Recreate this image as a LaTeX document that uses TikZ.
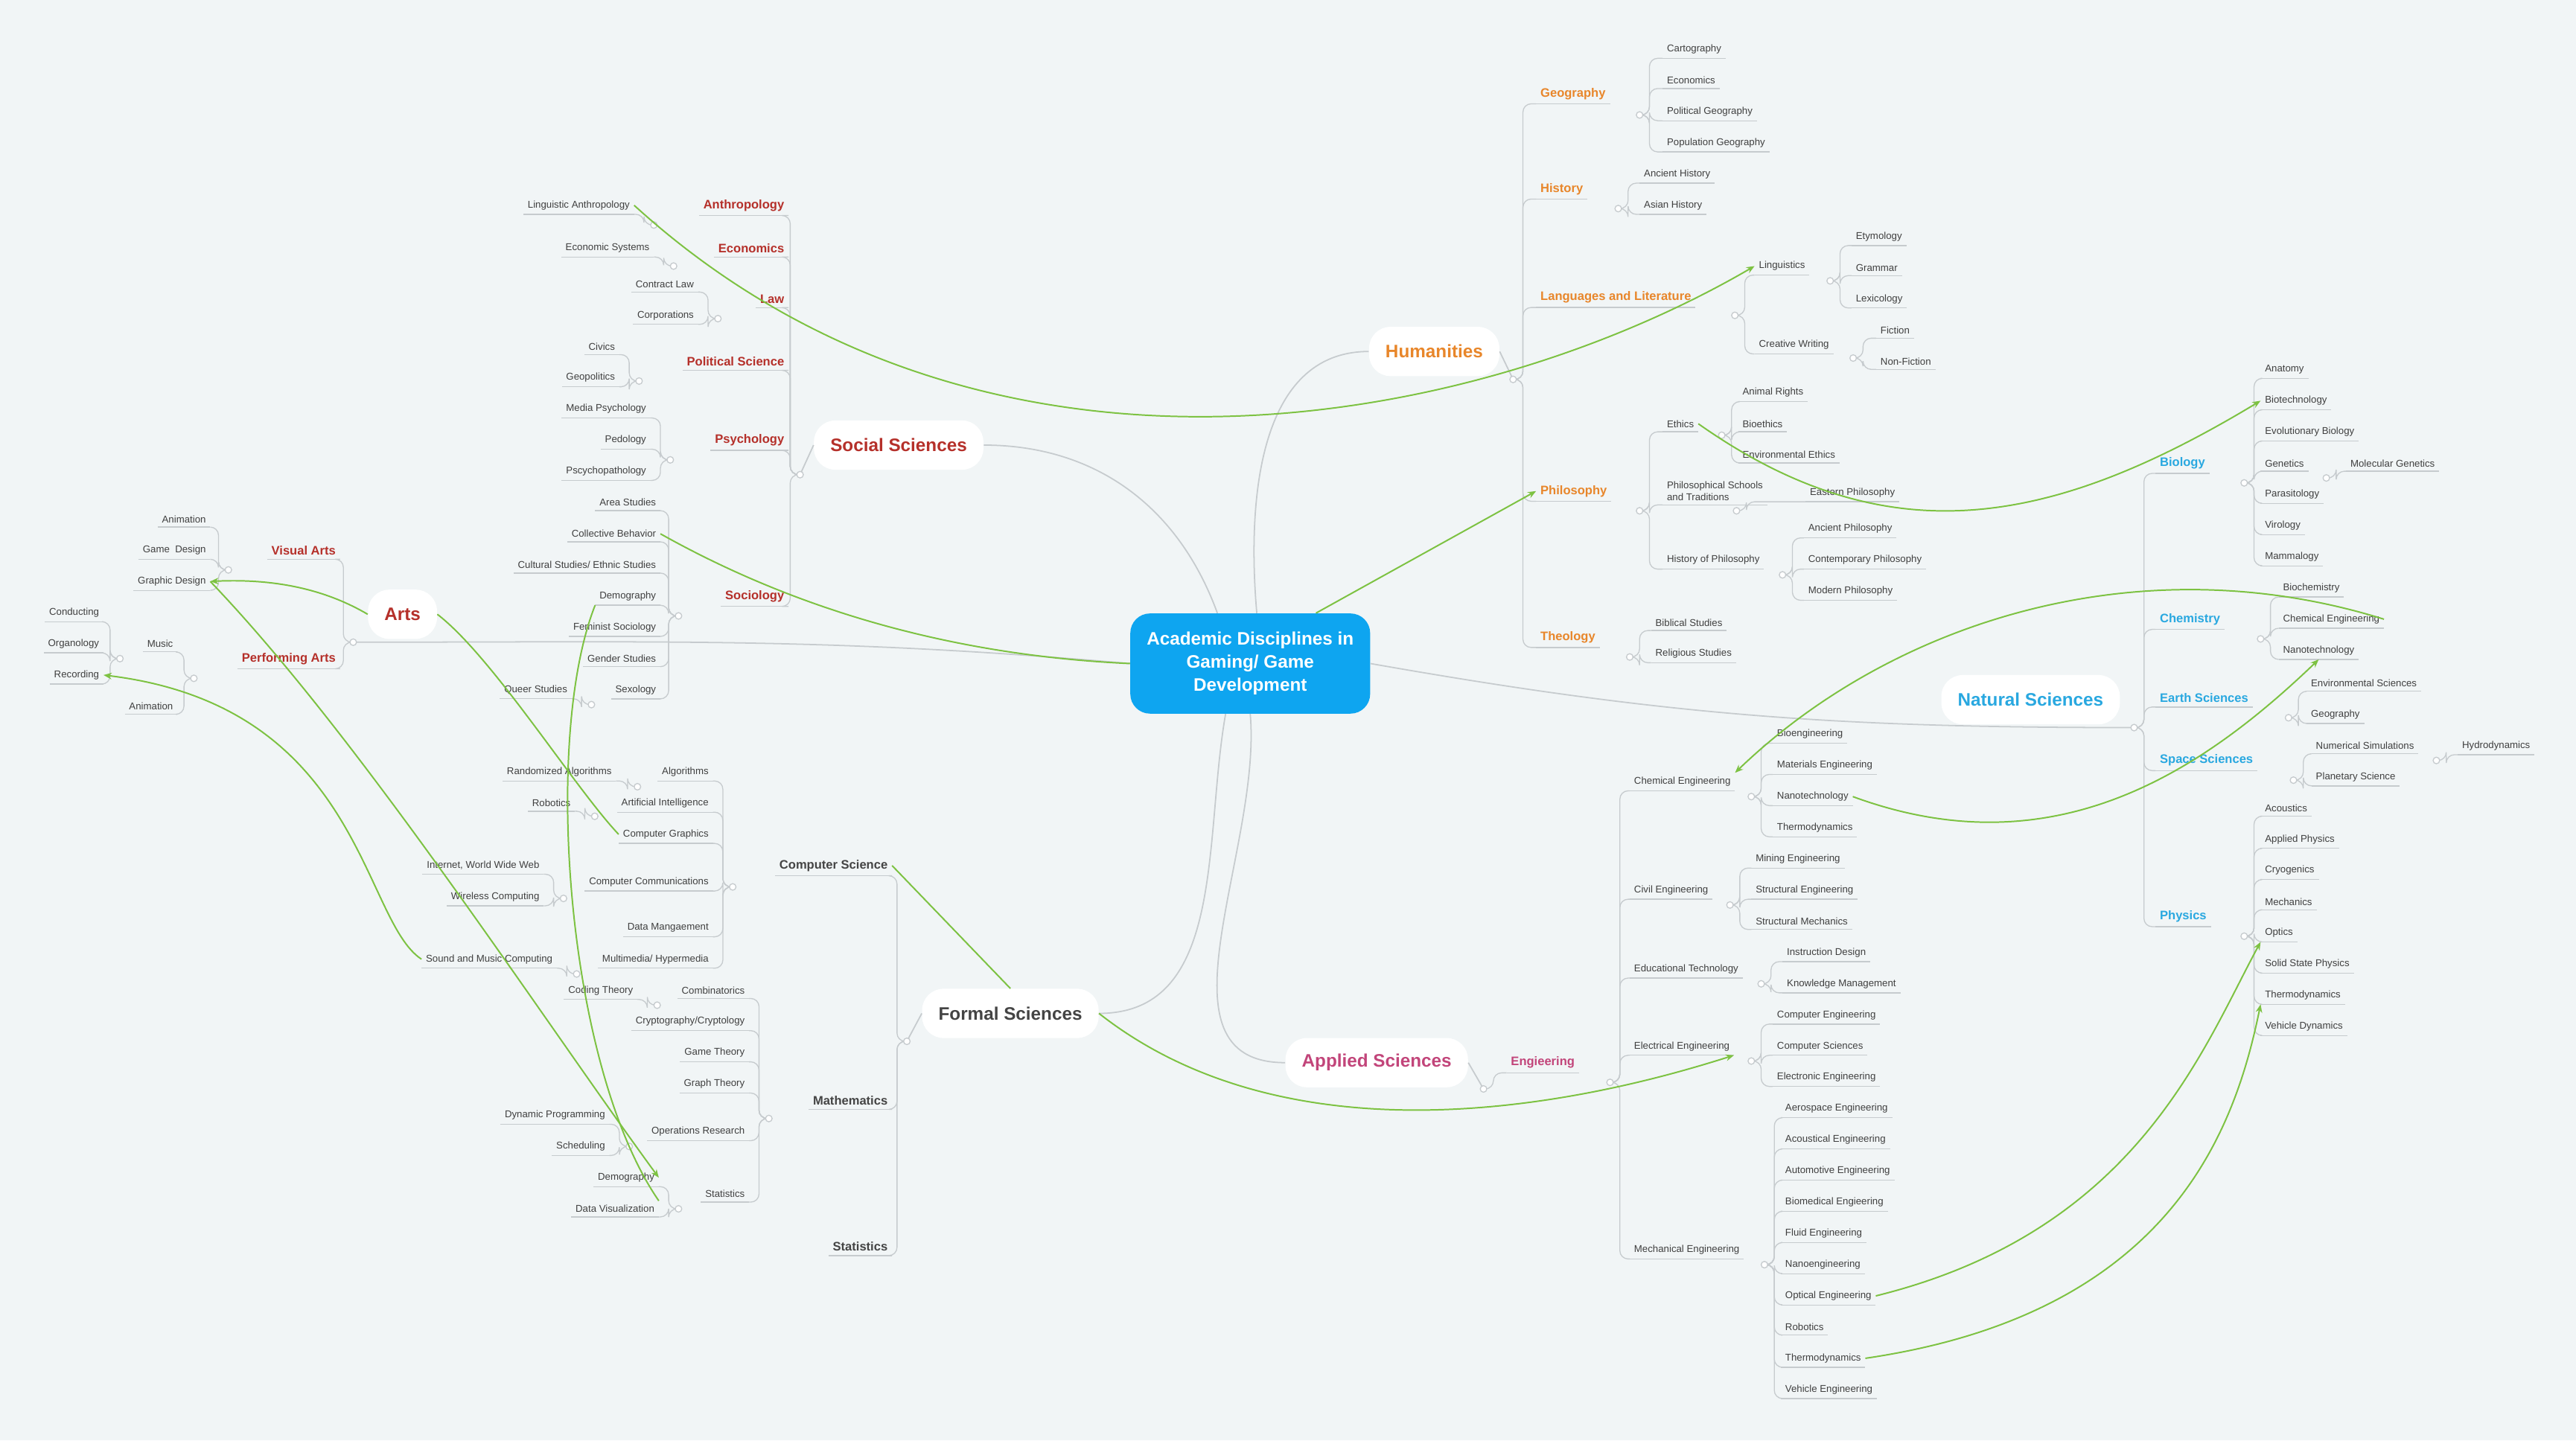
\documentclass[tikz,border=0pt]{standalone}
\usepackage{fontspec}
\setmainfont{Liberation Sans}
\usetikzlibrary{arrows.meta}
\definecolor{bgc}{HTML}{F1F5F6}
\definecolor{lnc}{HTML}{C6CBCE}
\definecolor{grn}{HTML}{7DC242}
\definecolor{humc}{HTML}{E8862A}
\definecolor{socc}{HTML}{B5302A}
\definecolor{natc}{HTML}{29A8E0}
\definecolor{appc}{HTML}{C2457A}
\definecolor{forc}{HTML}{444444}
\definecolor{ctrc}{HTML}{0EA5F0}
\tikzset{
 leaf/.style={font=\fontsize{6}{7}\selectfont, text=black!75, inner sep=2.5pt, align=left},
 hum/.style={leaf, font=\fontsize{7.5}{9}\selectfont\bfseries, text=humc},
 soc/.style={leaf, font=\fontsize{7.5}{9}\selectfont\bfseries, text=socc},
 nat/.style={leaf, font=\fontsize{7.5}{9}\selectfont\bfseries, text=natc},
 app/.style={leaf, font=\fontsize{7.5}{9}\selectfont\bfseries, text=appc},
 for/.style={leaf, font=\fontsize{7.5}{9}\selectfont\bfseries, text=forc},
 ul/.style={draw=lnc, line width=0.6pt},
 conn/.style={draw=lnc, line width=0.6pt, rounded corners=5pt},
 jdot/.style={draw=lnc, fill=white, line width=0.6pt},
 pill/.style={fill=white, rounded corners=13pt, minimum height=30pt, inner xsep=10pt, font=\fontsize{11}{13}\selectfont\bfseries},
 glink/.style={draw=grn, line width=0.9pt},
 garrow/.style={glink, -{Stealth[length=5pt,width=4pt]}},
 main/.style={draw=lnc, line width=0.8pt}
}
\newcommand\rgrp[5][leaf]{%
 \foreach \yy/\tt in {#5} {
  \node[#1, anchor=west] (g#2-\yy) at (#4,\yy) {\tt};
  \draw[ul] (g#2-\yy.south west) -- (g#2-\yy.south east);
  \draw[conn] (#2,#3) -- ++(6,0) |- (g#2-\yy.south west);
 }
 \draw[jdot] (#2,#3) circle (2pt);
}
\newcommand\lgrp[5][leaf]{%
 \foreach \yy/\tt in {#5} {
  \node[#1, anchor=east] (g#2-\yy) at (#4,\yy) {\tt};
  \draw[ul] (g#2-\yy.south west) -- (g#2-\yy.south east);
  \draw[conn] (#2,#3) -- ++(-6,0) |- (g#2-\yy.south east);
 }
 \draw[jdot] (#2,#3) circle (2pt);
}
\begin{document}
\begin{tikzpicture}[x=1pt,y=-1pt]
\fill[bgc] (0,0) rectangle (1568,877);
\useasboundingbox (0,0) rectangle (1568,877);

\node[fill=ctrc, rounded corners=12pt, minimum width=146pt, minimum height=61pt, text=white, align=center, font=\fontsize{11}{14}\selectfont\bfseries] (ctr) at (761,404) {Academic Disciplines in\\Gaming/ Game\\Development};
\node[pill, text=humc] (hum) at (873,214) {Humanities};
\node[pill, text=socc] (soc) at (547,271) {Social Sciences};
\node[pill, text=socc] (arts) at (245,374) {Arts};
\node[pill, text=natc] (nat) at (1236,426) {Natural Sciences};
\node[pill, text=appc] (app) at (838,647) {Applied Sciences};
\node[pill, text=forc] (fml) at (615,617) {Formal Sciences};

\coordinate (jh) at (921,231);
\coordinate (js) at (487,289);
\coordinate (ja) at (215,391);
\coordinate (jn) at (1299,443);
\coordinate (jap) at (903,663);
\coordinate (jf) at (552,634);
\draw[main] ([xshift=4pt]ctr.north) to[out=95,in=180] (hum.west);
\draw[main] (hum.east) -- (jh);
\draw[main] ([xshift=-20pt]ctr.north) to[out=110,in=0] (soc.east);
\draw[main] (soc.west) -- (js);
\draw[main] (ctr.west) to[out=175,in=0] (ja);
\draw[main] (ctr.east) to[out=-10,in=180] (jn);
\draw[main] (ctr.south) to[out=-85,in=180] (app.west);
\draw[main] (app.east) -- (jap);
\draw[main] ([xshift=-15pt]ctr.south) to[out=-100,in=0] (fml.east);
\draw[main] (fml.west) -- (jf);

\rgrp[hum]{921}{231}{935}{57/Geography,115/History,181/Languages and Literature,299/Philosophy,388/Theology}
\rgrp{998}{70}{1012}{30/Cartography,49/Economics,68/Political Geography,87/Population Geography}
\rgrp{985}{127}{998}{106/Ancient History,125/Asian History}
\rgrp{1056}{192}{1068}{162/Linguistics,210/Creative Writing}
\rgrp{1114}{171}{1127}{144/Etymology,163/Grammar,182/Lexicology}
\rgrp{1128}{218}{1142}{201/Fiction,220/Non-Fiction}
\rgrp{998}{311}{1012}{258/Ethics,299/{Philosophical Schools\\and Traditions},341/History of Philosophy}
\rgrp{1048}{265}{1058}{239/Animal Rights,258/Bioethics,277/Environmental Ethics}
\rgrp{1057}{311}{1099}{300/Eastern Philosophy}
\rgrp{1085}{350}{1098}{322/Ancient Philosophy,341/Contemporary Philosophy,360/Modern Philosophy}
\rgrp{992}{400}{1005}{379/Biblical Studies,398/Religious Studies}

\lgrp[soc]{487}{289}{480}{125/Anthropology,151/Economics,182/Law,220/Political Science,268/Psychology,363/Sociology}
\lgrp{398}{137}{386}{125/Linguistic Anthropology}
\lgrp{410}{162}{398}{151/Economic Systems}
\lgrp{437}{194}{425}{173/Contract Law,192/Corporations}
\lgrp{389}{232}{377}{211/Civics,230/Geopolitics}
\lgrp{408}{280}{396}{249/Media Psychology,268/Pedology,287/Pscychopathology}
\lgrp{413}{375}{402}{306/Area Studies,325/Collective Behavior,344/{Cultural Studies/ Ethnic Studies},363/Demography,382/Feminist Sociology,401/Gender Studies,420/Sexology}
\lgrp{360}{429}{348}{420/Queer Studies}

\lgrp[soc]{215}{391}{207}{335/Visual Arts,401/Performing Arts}
\lgrp{139}{347}{128}{316/Animation,335/Game\ \ Design,354/Graphic Design}
\lgrp{118}{413}{108}{392/Music,430/Animation}
\lgrp{73}{401}{63}{373/Conducting,392/Organology,411/Recording}

\rgrp[nat]{1299}{443}{1312}{282/Biology,377/Chemistry,425/Earth Sciences,463/Space Sciences,558/Physics}
\rgrp{1366}{294}{1376}{225/Anatomy,244/Biotechnology,263/Evolutionary Biology,282/Genetics,301/Parasitology,320/Virology,339/Mammalogy}
\rgrp{1416}{291}{1428}{282/Molecular Genetics}
\rgrp{1376}{389}{1387}{358/Biochemistry,377/Chemical Engineering,396/Nanotechnology}
\rgrp{1393}{437}{1404}{416/Environmental Sciences,435/Geography}
\rgrp{1396}{475}{1407}{454/Numerical Simulations,473/Planetary Science}
\rgrp{1483}{463}{1496}{454/Hydrodynamics}
\rgrp{1366}{570}{1376}{492/Acoustics,511/Applied Physics,530/Cryogenics,549/Mechanics,568/Optics,587/Solid State Physics,606/Thermodynamics,625/Vehicle Dynamics}

\rgrp[app]{903}{663}{917}{647/Engieering}
\rgrp{980}{659}{992}{476/Chemical Engineering,542/Civil Engineering,590/Educational Technology,637/Electrical Engineering,761/Mechanical Engineering}
\rgrp{1066}{485}{1079}{447/Bioengineering,466/Materials Engineering,485/Nanotechnology,504/Thermodynamics}
\rgrp{1053}{551}{1066}{523/Mining Engineering,542/Structural Engineering,561/Structural Mechanics}
\rgrp{1072}{599}{1085}{580/Instruction Design,599/Knowledge Management}
\rgrp{1066}{646}{1079}{618/Computer Engineering,637/Computer Sciences,656/Electronic Engineering}
\rgrp{1074}{770}{1084}{675/Aerospace Engineering,694/Acoustical Engineering,713/Automotive Engineering,732/Biomedical Engieering,751/Fluid Engineering,770/Nanoengineering,789/Optical Engineering,808/Robotics,827/Thermodynamics,846/Vehicle Engineering}

\lgrp[for]{552}{634}{543}{527/Computer Science,670/Mathematics,759/Statistics}
\lgrp{446}{540}{434}{470/Algorithms,489/Artificial Intelligence,508/Computer Graphics,537/Computer Communications,565/Data Mangaement,584/{Multimedia/ Hypermedia}}
\lgrp{388}{479}{375}{470/Randomized Algorithms}
\lgrp{362}{497}{350}{489/Robotics}
\lgrp{343}{547}{331}{527/{Internet, World Wide Web},546/Wireless Computing}
\lgrp{351}{593}{339}{584/Sound and Music Computing}
\lgrp{468}{681}{456}{603/Combinatorics,622/{Cryptography/Cryptology},641/Game Theory,660/Graph Theory,689/Operations Research,727/Statistics}
\lgrp{400}{612}{388}{603/Coding Theory}
\lgrp{383}{698}{371}{679/Dynamic Programming,698/Scheduling}
\lgrp{413}{736}{401}{717/Demography,736/Data Visualization}

\draw[garrow] (g398-125.east) .. controls (600,320) and (900,260) .. (g1056-162.west);
\draw[garrow] (g998-258.east) .. controls (1150,340) and (1250,320) .. (g1366-244.west);
\draw[garrow] (g1376-377.east) .. controls (1300,330) and (1150,380) .. (g980-476.north east);
\draw[garrow] (g1066-485.east) .. controls (1250,530) and (1340,470) .. (g1376-396.south);
\draw[garrow] ([xshift=40pt]ctr.north) -- (g921-299.west);
\draw[glink] (g413-325.east) .. controls (500,380) and (600,400) .. (ctr.west);
\draw[garrow] (arts.west) .. controls (200,360) and (170,352) .. (g139-354.east);
\draw[glink] (arts.east) .. controls (300,400) and (350,480) .. (g446-508.west);
\draw[garrow] (g351-584.west) .. controls (220,560) and (220,430) .. (g73-411.east);
\draw[glink] (g552-527.east) -- (fml.north);
\draw[garrow] (fml.east) .. controls (800,720) and (1000,660) .. (g980-637.south east);
\draw[garrow] (g1074-789.east) .. controls (1300,750) and (1340,640) .. (g1366-568.south west);
\draw[garrow] (g1074-827.east) .. controls (1320,800) and (1360,690) .. (g1366-606.south west);
\draw[garrow] (g139-354.east) .. controls (220,450) and (330,620) .. (g413-717.east);
\draw[glink] (g413-363.south west) .. controls (330,450) and (345,650) .. (g413-736.north east);
\end{tikzpicture}
\end{document}
